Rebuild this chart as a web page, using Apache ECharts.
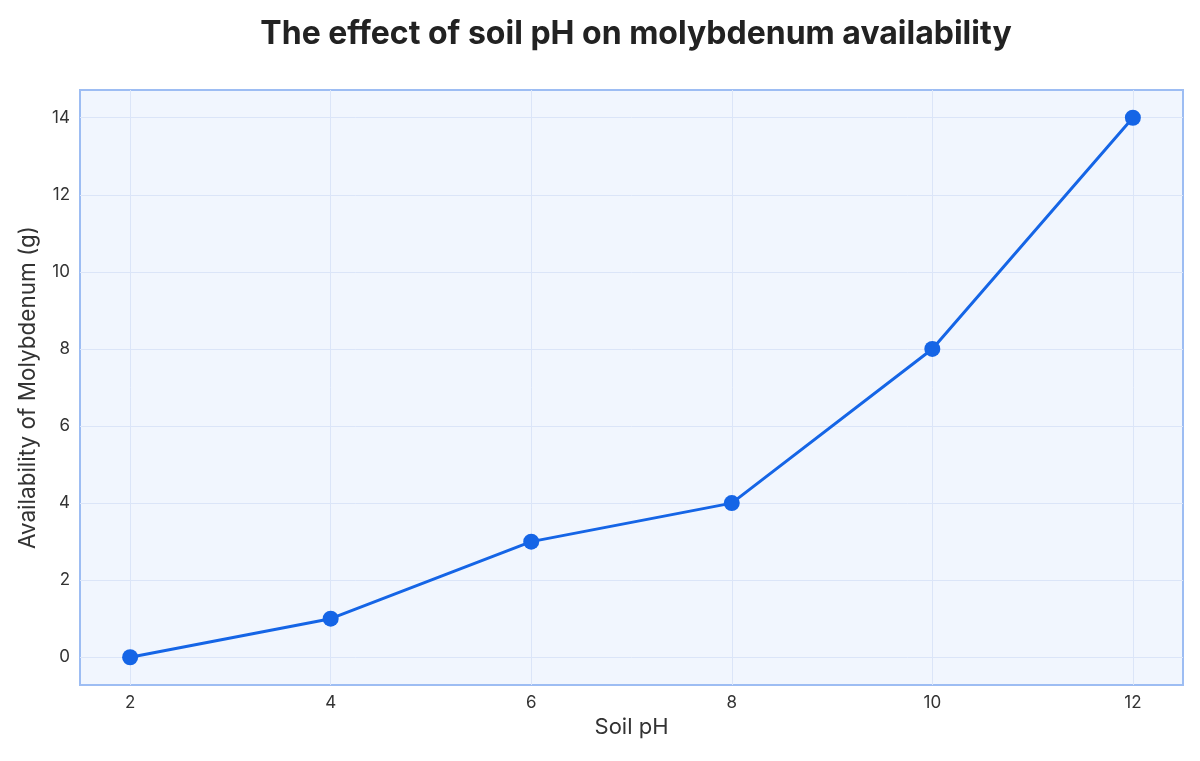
<!DOCTYPE html>
<html><head><meta charset="utf-8">
<script src="https://cdn.jsdelivr.net/npm/echarts@6/dist/echarts.min.js"></script>
<style>html,body{margin:0;padding:0;background:#fff}#c{width:1200px;height:761px}</style>
</head><body><div id="c"></div>
<script>
const soilPH = [2, 4, 6, 8, 10, 12];
const molybdenum = [0, 1, 3, 4, 8, 14];
const xTicks = [2, 4, 6, 8, 10, 12];
const yTicks = [0, 2, 4, 6, 8, 10, 12, 14];

const chart = echarts.init(document.getElementById('c'), null, {renderer: 'canvas'});
const font = 'Inter, "Noto Sans", sans-serif';
chart.setOption({
  animation: false,
  backgroundColor: '#ffffff',
  title: {
    text: 'The effect of soil pH on molybdenum availability',
    left: 631, top: 13, textAlign: 'center',
    textStyle: {fontFamily: font, fontSize: 32, fontWeight: 'bold', color: '#222222'}
  },
  grid: {
    show: true, left: 80, right: 17, top: 90, bottom: 76,
    backgroundColor: '#f1f6fe', borderColor: '#9dbdf3', borderWidth: 2
  },
  xAxis: {
    type: 'value', min: 1.5, max: 12.5,
    name: 'Soil pH', nameLocation: 'middle', nameGap: 31,
    nameTextStyle: {fontFamily: font, fontSize: 22, color: '#333333'},
    axisLine: {show: false},
    axisTick: {show: false, customValues: xTicks},
    axisLabel: {customValues: xTicks, fontFamily: font, fontSize: 17, color: '#333333', margin: 9},
    splitLine: {show: true, lineStyle: {color: '#dbe5f8', width: 1}}
  },
  yAxis: {
    type: 'value', min: -0.72, max: 14.72,
    name: 'Availability of Molybdenum (g)', nameLocation: 'middle', nameGap: 40,
    nameTextStyle: {fontFamily: font, fontSize: 22.5, color: '#333333'},
    axisLine: {show: false},
    axisTick: {show: false, customValues: yTicks},
    axisLabel: {customValues: yTicks, fontFamily: font, fontSize: 17, color: '#333333', margin: 10},
    splitLine: {show: true, lineStyle: {color: '#dbe5f8', width: 1}}
  },
  series: [{
    type: 'line',
    data: soilPH.map((x, i) => [x, molybdenum[i]]),
    symbol: 'circle', symbolSize: 16,
    lineStyle: {color: '#1565e6', width: 3},
    itemStyle: {color: '#1565e6'}
  }]
});
</script></body></html>
